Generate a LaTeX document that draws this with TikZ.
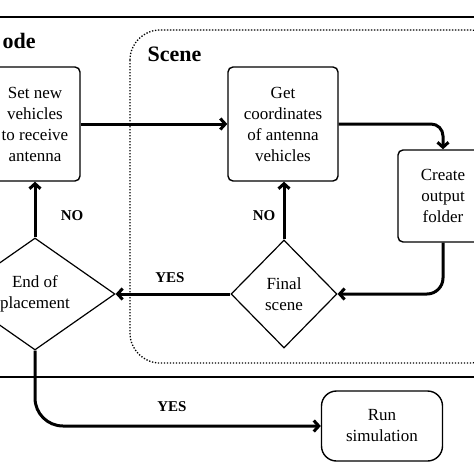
\documentclass[tikz,border=0pt]{standalone}
\usepackage{fontspec}
\setmainfont{Liberation Serif}
\usetikzlibrary{shapes.geometric,arrows.meta}

\begin{document}
\begin{tikzpicture}[x=1pt, y=-1pt,
    box/.style={draw, line width=1.4pt, rounded corners=5pt, align=center,
        font=\fontsize{17}{21}\selectfont},
    choice/.style={draw, diamond, line width=1.2pt, inner sep=0pt, align=center,
        font=\fontsize{17}{21}\selectfont},
    flow/.style={line width=3pt, -{Straight Barb[length=5pt,width=11pt]}},
    tag/.style={font=\fontsize{15}{18}\selectfont\bfseries}]
    \useasboundingbox (0,0) rectangle (474,474);
    \clip (0,0) rectangle (474,474);
    % frames
    \draw[line width=1.3pt] (-10,17) rectangle (490,377);
    \draw[line width=1.3pt, dash pattern=on 1.3pt off 1.7pt, rounded corners=30pt]
        (130,30) rectangle (500,363);
    \node[font=\fontsize{22}{24}\selectfont\bfseries, anchor=base west] (node) at (-1,48) {ode};
    \node[font=\fontsize{22}{24}\selectfont\bfseries, anchor=base west] (scene) at (144,61) {Scene};
    % steps
    \node[box, minimum width=90pt, minimum height=114pt] (vehicles) at (35,124)
        {Set new\\vehicles\\to receive\\antenna};
    \node[box, minimum width=110pt, minimum height=114pt] (coords) at (283,124)
        {Get\\coordinates\\of antenna\\vehicles};
    \node[box, minimum width=90pt, minimum height=92pt] (folder) at (443,196)
        {Create\\output\\folder};
    \node[choice, minimum width=106pt, minimum height=108pt] (final) at (284,294)
        {Final\\scene};
    \node[choice, shape aspect=1.4, minimum width=160pt, minimum height=112pt] (end) at (35,294)
        {End of\\placement};
    \node[box, rounded corners=15pt, minimum width=121pt, minimum height=70pt] (run) at (382,426)
        {Run\\simulation};
    % arrows
    \draw[flow] (vehicles) -- (coords);
    \draw[flow, rounded corners=12pt] (coords.east) -| (folder.north);
    \draw[flow, rounded corners=16pt] (folder.south) |- (final.east);
    \draw[flow] (final.north) -- (final.north |- coords.south);
    \draw[flow] (final.west) -- (end.east);
    \draw[flow] (end.north) -- (vehicles.south);
    \draw[flow, rounded corners=28pt] (end.south) |- (run.west);
    % labels
    \node[tag] (no1) at (72,216) {NO};
    \node[tag] (no2) at (264,216) {NO};
    \node[tag] (yes1) at (170,278) {YES};
    \node[tag] (yes2) at (172,407) {YES};
\end{tikzpicture}
\end{document}
